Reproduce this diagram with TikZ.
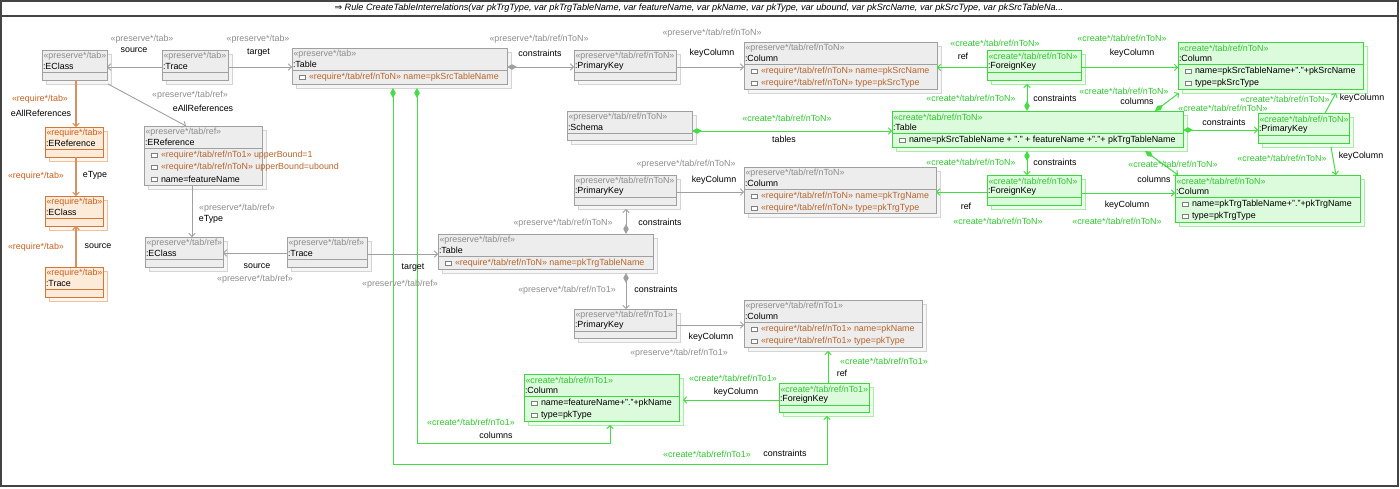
\documentclass[tikz,border=0pt]{standalone}
\usepackage{fontspec}
\setmainfont{Liberation Sans}
\newfontfamily\symfont{DejaVu Sans}
\usetikzlibrary{arrows.meta,calc}

\definecolor{presline}{HTML}{A0A0A0}
\definecolor{presfill}{HTML}{EDEDED}
\definecolor{presshl}{HTML}{D4D4D4}
\definecolor{presshf}{HTML}{F6F6F6}
\definecolor{prestext}{HTML}{8C8C8C}
\definecolor{presedge}{HTML}{A0A0A0}
\definecolor{reqline}{HTML}{D0783A}
\definecolor{reqfill}{HTML}{FDEBDA}
\definecolor{reqshl}{HTML}{F0C29C}
\definecolor{reqshf}{HTML}{FFF5EC}
\definecolor{reqtext}{HTML}{C8601E}
\definecolor{reqedge}{HTML}{D8905E}
\definecolor{creline}{HTML}{3ED83E}
\definecolor{crefill}{HTML}{DCFADC}
\definecolor{creshl}{HTML}{A8EEA8}
\definecolor{creshf}{HTML}{EEFFEE}
\definecolor{cretext}{HTML}{2EC82E}
\definecolor{creedge}{HTML}{44DD44}
\definecolor{attrtext}{HTML}{B8642A}
\definecolor{iconline}{HTML}{808080}
\definecolor{framecol}{HTML}{444444}

\tikzset{
  every node/.style={font=\fontsize{8.9}{10}\selectfont, inner sep=0pt, outer sep=0pt},
  pe/.style={draw=presedge, line width=0.9pt},
  re/.style={draw=reqedge, line width=1.1pt},
  ce/.style={draw=creedge, line width=1pt},
  arr/.style={-{Straight Barb[length=3pt,width=6.5pt]}},
  compo/.style={{Diamond[length=10pt,width=5.5pt]}-{Straight Barb[length=3pt,width=6.5pt]}},
  plbl/.style={text=prestext},
  rlbl/.style={text=reqtext},
  clbl/.style={text=cretext},
}

\newcommand\obj[8]{%
  \filldraw[draw=#2shl, fill=#2shf, line width=0.8pt] (#3+4,#4+4) rectangle ++(#5,#6);
  \node[draw=#2line, fill=#2fill, line width=1pt, minimum width=#5pt, minimum height=#6pt, anchor=north west] (#1) at (#3,#4) {};
  \draw[draw=#2line, line width=1pt] ($(#1.north west)+(0,22)$) -- ($(#1.north east)+(0,22)$);
  \node[anchor=west, text=#2text] (#1-st) at ($(#1.north west)+(1.5,6.5)$) {#7};
  \node[anchor=west] (#1-nm) at ($(#1.north west)+(1,16.5)$) {#8};
}
\newcommand\attr[4]{%
  \draw[draw=iconline, fill=white, line width=0.6pt] ($(#1.north west)+(7,27+12*#2)$) rectangle ++(6,4);
  \node[anchor=west, text=#3] (#1-a#2) at ($(#1.north west)+(17,29+12*#2)$) {#4};
}

\begin{document}
\begin{tikzpicture}[x=1pt, y=-1pt]
\useasboundingbox (0,0) rectangle (1400,488);
% frame
\node[draw=framecol, line width=1.5pt, minimum width=1397pt, minimum height=485pt, anchor=north west] (frame) at (1,1) {};
\draw[draw=framecol, line width=1.8pt] ($(frame.north west)+(0,15)$) -- ($(frame.north east)+(0,15)$);
\node[font=\fontsize{9.15}{10}\selectfont] (title) at (699,8) {{\symfont ⇒}\ \textit{Rule CreateTableInterrelations(var pkTrgType, var pkTrgTableName, var featureName, var pkName, var pkType, var ubound, var pkSrcName, var pkSrcType, var pkSrcTableNa...}};

% nodes
\obj{ecA}{pres}{42}{50}{65}{30}{«preserve*/tab»}{:EClass}
\obj{trA}{pres}{162}{50}{66}{30}{«preserve*/tab»}{:Trace}
\obj{tabA}{pres}{292}{48}{215}{36}{«preserve*/tab»}{:Table}
\attr{tabA}{0}{attrtext}{«require*/tab/ref/nToN» name=pkSrcTableName}
\obj{pkA}{pres}{574}{50}{102}{30}{«preserve*/tab/ref/nToN»}{:PrimaryKey}
\obj{colA}{pres}{744}{42}{193}{47}{«preserve*/tab/ref/nToN»}{:Column}
\attr{colA}{0}{attrtext}{«require*/tab/ref/nToN» name=pkSrcName}
\attr{colA}{1}{attrtext}{«require*/tab/ref/nToN» type=pkSrcType}
\obj{fkA}{cre}{987}{50}{94}{30}{«create*/tab/ref/nToN»}{:ForeignKey}
\obj{colB}{cre}{1178}{42}{185}{47}{«create*/tab/ref/nToN»}{:Column}
\attr{colB}{0}{black}{name=pkSrcTableName+"."+pkSrcName}
\attr{colB}{1}{black}{type=pkSrcType}
\obj{sch}{pres}{567}{111}{125}{29}{«preserve*/tab/ref/nToN»}{:Schema}
\obj{tabC}{cre}{892}{111}{291}{36}{«create*/tab/ref/nToN»}{:Table}
\attr{tabC}{0}{black}{name=pkSrcTableName + "." + featureName +"."+ pkTrgTableName}
\obj{pkC}{cre}{1258}{113}{91}{30}{«create*/tab/ref/nToN»}{:PrimaryKey}
\obj{erB}{pres}{144}{126}{118}{59}{«preserve*/tab/ref»}{:EReference}
\attr{erB}{0}{attrtext}{«require*/tab/ref/nTo1» upperBound=1}
\attr{erB}{1}{attrtext}{«require*/tab/ref/nToN» upperBound=ubound}
\attr{erB}{2}{black}{name=featureName}
\obj{erR}{req}{45}{127}{58}{30}{«require*/tab»}{:EReference}
\obj{ecR}{req}{45}{196}{58}{30}{«require*/tab»}{:EClass}
\obj{trR}{req}{45}{267}{58}{30}{«require*/tab»}{:Trace}
\obj{ecB}{pres}{145}{237}{78}{30}{«preserve*/tab/ref»}{:EClass}
\obj{trB}{pres}{287}{237}{80}{30}{«preserve*/tab/ref»}{:Trace}
\obj{tabB}{pres}{438}{234}{215}{35}{«preserve*/tab/ref»}{:Table}
\attr{tabB}{0}{attrtext}{«require*/tab/ref/nToN» name=pkTrgTableName}
\obj{pkB}{pres}{574}{175}{102}{30}{«preserve*/tab/ref/nToN»}{:PrimaryKey}
\obj{colC}{pres}{744}{167}{192}{46}{«preserve*/tab/ref/nToN»}{:Column}
\attr{colC}{0}{attrtext}{«require*/tab/ref/nToN» name=pkTrgName}
\attr{colC}{1}{attrtext}{«require*/tab/ref/nToN» type=pkTrgType}
\obj{fkB}{cre}{987}{175}{94}{30}{«create*/tab/ref/nToN»}{:ForeignKey}
\obj{colD}{cre}{1175}{175}{185}{47}{«create*/tab/ref/nToN»}{:Column}
\attr{colD}{0}{black}{name=pkTrgTableName+"."+pkTrgName}
\attr{colD}{1}{black}{type=pkTrgType}
\obj{pkD}{pres}{574}{309}{102}{29}{«preserve*/tab/ref/nTo1»}{:PrimaryKey}
\obj{colE}{pres}{744}{300}{178}{47}{«preserve*/tab/ref/nTo1»}{:Column}
\attr{colE}{0}{attrtext}{«require*/tab/ref/nTo1» name=pkName}
\attr{colE}{1}{attrtext}{«require*/tab/ref/nTo1» type=pkType}
\obj{colF}{cre}{524}{374}{155}{47}{«create*/tab/ref/nTo1»}{:Column}
\attr{colF}{0}{black}{name=featureName+"."+pkName}
\attr{colF}{1}{black}{type=pkType}
\obj{fkC}{cre}{779}{383}{90}{29}{«create*/tab/ref/nTo1»}{:ForeignKey}

% edges
\draw[pe,arr] ([yshift=-2pt]trA.west) -- ([yshift=-2pt]ecA.east);
\draw[pe,arr] ([yshift=-2pt]trA.east) -- ([yshift=-2pt]trA.east -| tabA.west);
\draw[pe,arr] ([xshift=1pt,yshift=-4pt]ecA.south east) -- ([xshift=-17pt]erB.north);
\draw[re,arr] ([xshift=2pt]erR.north |- ecA.south) -- ([xshift=2pt]erR.north);
\draw[re,arr] ([xshift=2pt]erR.south) -- ([xshift=2pt]ecR.north);
\draw[re,arr] ([xshift=2pt]trR.north) -- ([xshift=2pt]ecR.south);
\draw[pe,arr] ([xshift=8pt]ecB.north |- erB.south) -- ([xshift=8pt]ecB.north);
\draw[pe,arr] ([yshift=-1pt]trB.west) -- ([yshift=-1pt]ecB.east);
\draw[pe,arr] ([yshift=-2pt]trB.east) -- ([yshift=-2pt]trB.east -| tabB.west);
\draw[pe,compo] ([yshift=-1pt]tabA.east) -- ([yshift=-1pt]tabA.east -| pkA.west);
\draw[pe,arr] ([yshift=-2pt]pkA.east) -- ([yshift=-2pt]pkA.east -| colA.west);
\draw[pe,compo] ([xshift=1pt]pkB.south |- tabB.north) -- ([xshift=1pt,yshift=-4pt]pkB.south);
\draw[pe,arr] ([yshift=-2pt]pkB.east) -- ([yshift=-2pt]pkB.east -| colC.west);
\draw[pe,compo] ([xshift=1pt,yshift=-4pt]pkD.north |- tabB.south) -- ([xshift=1pt]pkD.north);
\draw[pe,arr] ([yshift=-1.5pt]pkD.east) -- ([yshift=-1.5pt]pkD.east -| colE.west);
\draw[ce,compo] ([yshift=-5.5pt]sch.east) -- ([yshift=-5.5pt]sch.east -| tabC.west);
\draw[ce,arr] ([yshift=-2.5pt]fkA.west) -- ([yshift=-2.5pt]fkA.west -| colA.east);
\draw[ce,arr] ([yshift=-2.5pt]fkA.east) -- ([yshift=-2.5pt]fkA.east -| colB.west);
\draw[ce,compo] ([xshift=-7pt]fkA.south |- tabC.north) -- ([xshift=-7pt,yshift=-4pt]fkA.south);
\draw[ce,compo] ([xshift=-28pt]tabC.north east) -- ([xshift=1pt,yshift=-4pt]colB.south west);
\draw[ce,compo] ([yshift=-1pt]tabC.east) -- ([yshift=-1pt]tabC.east -| pkC.west);
\draw[ce,arr] ([xshift=21.5pt]pkC.north) -- ([xshift=65.5pt,yshift=-4pt]colB.south);
\draw[ce,arr] ([xshift=27.5pt,yshift=-4pt]pkC.south) -- ([xshift=161pt]colD.north west);
\draw[ce,compo] ([xshift=-7pt,yshift=-4pt]fkB.north |- tabC.south) -- ([xshift=-7pt]fkB.north);
\draw[ce,compo] ([xshift=-38pt,yshift=-4pt]tabC.south east) -- ([xshift=3pt]colD.north west);
\draw[ce,arr] ([yshift=-2pt]fkB.west) -- ([yshift=-2pt]fkB.west -| colC.east);
\draw[ce,arr] ([yshift=-3pt]fkB.east) -- ([yshift=-3pt]fkB.east -| colD.west);
\draw[ce,arr] ([xshift=4pt]fkC.north) -- ([xshift=4pt,yshift=-4pt]fkC.north |- colE.south);
\draw[ce,arr] ([yshift=-2.5pt]fkC.west) -- ([xshift=4pt,yshift=-2.5pt]fkC.west -| colF.east);
\draw[ce,compo] ([xshift=125pt,yshift=-4pt]tabA.south west) |- ([xshift=86pt,yshift=-22pt]colF.south west) -- ([xshift=86pt,yshift=-4pt]colF.south west);
\draw[ce,compo] ([xshift=101pt,yshift=-4pt]tabA.south west) |- ([xshift=48pt,yshift=-52pt]fkC.south west) -- ([xshift=48pt,yshift=-4pt]fkC.south west);

% labels
\node[plbl] (l1a) at (142,39) {«preserve*/tab»};
\node (l1b) at (134,50) {source};
\node[plbl] (l2a) at (258,39) {«preserve*/tab»};
\node (l2b) at (258.5,53) {target};
\node[plbl] (l3a) at (190,95) {«preserve*/tab/ref»};
\node (l3b) at (203,108) {eAllReferences};
\node[rlbl] (l4a) at (40,99) {«require*/tab»};
\node (l4b) at (41,113) {eAllReferences};
\node[rlbl] (l5a) at (36,176) {«require*/tab»};
\node (l5b) at (95,175) {eType};
\node[rlbl] (l6a) at (36,247) {«require*/tab»};
\node (l6b) at (98,246) {source};
\node[plbl] (l7a) at (237,208) {«preserve*/tab/ref»};
\node (l7b) at (211,219) {eType};
\node (l8a) at (257,266) {source};
\node[plbl] (l8b) at (255,279) {«preserve*/tab/ref»};
\node (l9a) at (413,268) {target};
\node[plbl] (l9b) at (400,284) {«preserve*/tab/ref»};
\node[plbl] (l10a) at (539,39) {«preserve*/tab/ref/nToN»};
\node (l10b) at (540,53) {constraints};
\node[plbl] (l11a) at (712,33) {«preserve*/tab/ref/nToN»};
\node (l11b) at (712,53) {keyColumn};
\node[plbl] (l12a) at (563,223) {«preserve*/tab/ref/nToN»};
\node (l12b) at (660,222) {constraints};
\node[plbl] (l13a) at (686,164) {«preserve*/tab/ref/nToN»};
\node (l13b) at (714,180) {keyColumn};
\node[plbl] (l14a) at (567,290) {«preserve*/tab/ref/nTo1»};
\node (l14b) at (656,289) {constraints};
\node (l15a) at (711,337) {keyColumn};
\node[plbl] (l15b) at (679,353) {«preserve*/tab/ref/nTo1»};
\node[clbl] (l16a) at (787,118) {«create*/tab/ref/nToN»};
\node (l16b) at (784,139) {tables};
\node[clbl] (l17a) at (995,43) {«create*/tab/ref/nToN»};
\node (l17b) at (963,56) {ref};
\node[clbl] (l18a) at (1122,38) {«create*/tab/ref/nToN»};
\node (l18b) at (1132,53) {keyColumn};
\node[clbl] (l19a) at (971,98) {«create*/tab/ref/nToN»};
\node (l19b) at (1055,98) {constraints};
\node[clbl] (l20a) at (1124,91) {«create*/tab/ref/nToN»};
\node (l20b) at (1137,101) {columns};
\node[clbl] (l21a) at (1223,108) {«create*/tab/ref/nToN»};
\node (l21b) at (1224,122) {constraints};
\node[clbl] (l22a) at (1285,99) {«create*/tab/ref/nToN»};
\node (l22b) at (1362,98) {keyColumn};
\node[clbl] (l23a) at (1282,158) {«create*/tab/ref/nToN»};
\node (l23b) at (1361,156) {keyColumn};
\node[clbl] (l24a) at (971,162) {«create*/tab/ref/nToN»};
\node (l24b) at (1055,162) {constraints};
\node[clbl] (l25a) at (1173,164) {«create*/tab/ref/nToN»};
\node (l25b) at (1154,179) {columns};
\node (l26a) at (966,206) {ref};
\node[clbl] (l26b) at (998,221) {«create*/tab/ref/nToN»};
\node (l27a) at (1127,205) {keyColumn};
\node[clbl] (l27b) at (1117,221) {«create*/tab/ref/nToN»};
\node[clbl] (l28a) at (884,361) {«create*/tab/ref/nTo1»};
\node (l28b) at (842,373) {ref};
\node[clbl] (l29a) at (733,378) {«create*/tab/ref/nTo1»};
\node (l29b) at (736,392) {keyColumn};
\node[clbl] (l30a) at (471,422) {«create*/tab/ref/nTo1»};
\node (l30b) at (496,435) {columns};
\node[clbl] (l31a) at (707,454) {«create*/tab/ref/nTo1»};
\node (l31b) at (785,453) {constraints};
\end{tikzpicture}
\end{document}
